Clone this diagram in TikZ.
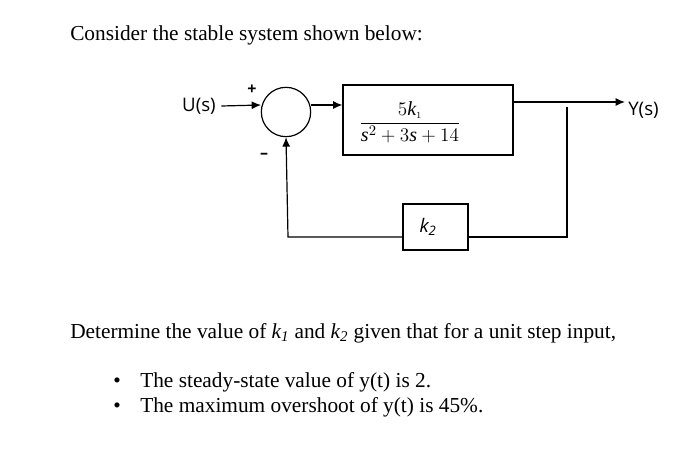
\documentclass[tikz,border=0pt]{standalone}
\usepackage{fontspec}
\usetikzlibrary{arrows.meta}
\setmainfont{Liberation Serif}
\newfontfamily\sansf{Open Sans}
\begin{document}
\begin{tikzpicture}[x=0.75pt,y=-0.75pt,
  blk/.style={draw,line width=0.9pt,inner sep=0pt},
  ln/.style={line width=0.9pt},
  arr/.style={ln,-{Latex[length=7pt,width=6pt]}},
  txt/.style={anchor=west,font=\fontsize{16}{19}\selectfont,inner sep=0pt},
  sl/.style={font=\sansf\fontsize{14}{16}\selectfont,inner sep=0pt}]
\useasboundingbox (0,0) rectangle (700,461);
\node[txt] (t1) at (70,35) {Consider the stable system shown below:};
\node[sl,anchor=east] (u) at (216,106) {U(s)};
\node[draw,circle,line width=0.9pt,minimum size=37pt,inner sep=0pt] (sum) at (286,112) {};
\node[blk,minimum width=127.5pt,minimum height=52.5pt] (g) at (428,120) {};
\node[font=\fontsize{15}{17}\selectfont,inner sep=0pt] (gt) at (410,122) {$\displaystyle\frac{5\textit{k}_{\scriptscriptstyle 1}}{\textit{s}^2+3\textit{s}+14}$};
\node[blk,minimum width=48.75pt,minimum height=34.5pt] (h) at (435.5,227) {};
\node[sl,font=\sansf\itshape\fontsize{14}{16}\selectfont] (ht) at (428,227) {k\textsubscript{2}};
\node[sl,anchor=west] (y) at (628,110) {Y(s)};
\node[font=\sansf\bfseries\fontsize{12}{13}\selectfont] (p) at (252,90) {+};
\node[font=\sansf\bfseries\fontsize{12}{13}\selectfont] (m) at (264,156) {–};
\coordinate (c1) at (261,105);
\coordinate (c2) at (311,105);
\coordinate (o1) at (513,102);
\coordinate (o2) at (625,102);
\coordinate (f0) at (567,107);
\coordinate (f1) at (567,237);
\coordinate (f2) at (288,237);
\draw[arr] (u.east)++(4pt,0) -- (c1);
\draw[arr] (c2) -- (g.west |- c2);
\draw[arr] (o1) -- (o2);
\draw[ln] (f0) -- (f1) -- (h.east |- f1);
\draw[arr] (h.west |- f2) -- (f2) -- (sum.south);
\node[txt] (t2) at (70,333) {Determine the value of \textit{k\textsubscript{1}} and \textit{k\textsubscript{2}} given that for a unit step input,};
\node[txt] (b1) at (113,383) {•};
\node[txt] (l1) at (140,382) {The steady-state value of y(t) is 2.};
\node[txt] (b2) at (113,408) {•};
\node[txt] (l2) at (140,407) {The maximum overshoot of y(t) is 45\%.};
\end{tikzpicture}
\end{document}
